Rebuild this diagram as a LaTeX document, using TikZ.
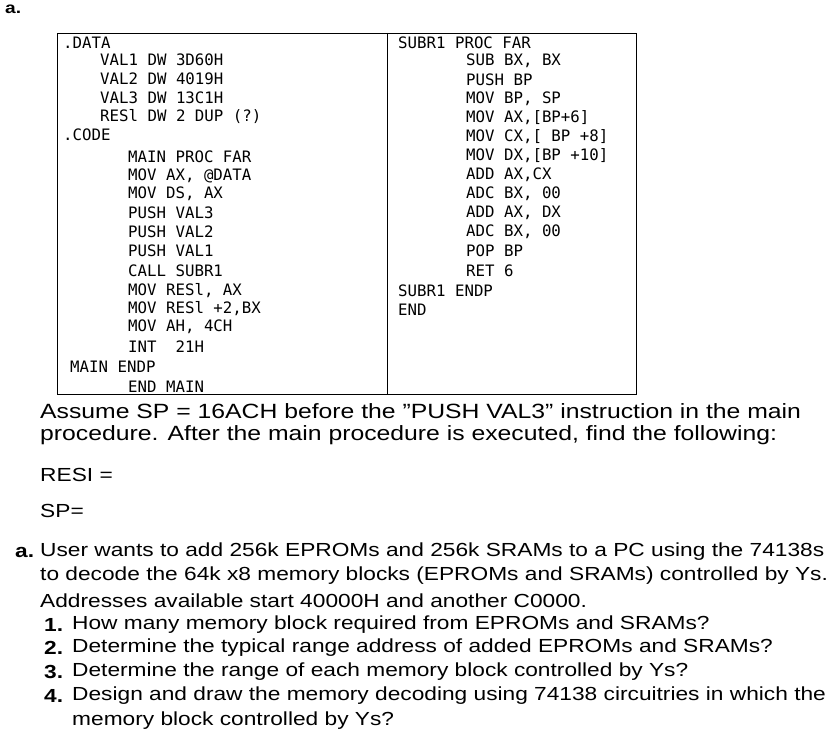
\documentclass[tikz,border=0pt]{standalone}
\usepackage{fontspec}
\setmainfont{Liberation Sans}[FakeStretch=1.2]
\newfontfamily\codefont{DejaVu Sans Mono}
\begin{document}
\begin{tikzpicture}[x=1bp,y=-1bp,
  code/.style={anchor=west,inner sep=0,font=\codefont\fontsize{15.8}{15.8}\selectfont},
  txt/.style={anchor=west,inner sep=0,font=\fontsize{20.7}{20.7}\selectfont},
  txtb/.style={anchor=west,inner sep=0,font=\fontsize{19}{19}\selectfont},
  box/.style={draw=black,line width=0.8pt}]
\useasboundingbox[fill=white] (0,0) rectangle (828,752);
\node[anchor=west,inner sep=0,font=\bfseries\fontsize{16}{16}\selectfont] (a0) at (5,9) {a.};
\draw[box] (57,33) rectangle (636,394);
\draw[box] (387,33) -- (387,394);
% left column
\node[code] (l1) at (63,43) {.DATA};
\foreach \t/\x/\y [count=\i] in {VAL1 DW 3D60H/100/60, VAL2 DW 4019H/100/79, VAL3 DW 13C1H/100/98, RESl DW 2 DUP (?)/100/117,
  .CODE/63/135, MAIN PROC FAR/128/157, {MOV AX, @DATA}/128/176, {MOV DS, AX}/128/194, PUSH VAL3/128/213, PUSH VAL2/128/232,
  PUSH VAL1/128/251, CALL SUBR1/128/271, {MOV RESl, AX}/128/291, {MOV RESl +2,BX}/128/309, {MOV AH, 4CH}/128/327,
  INT\ \ 21H/128/347, MAIN ENDP/70/367, END MAIN/128/387}
  \node[code] (lc\i) at (\x,\y) {\t};
% right column
\foreach \t/\x/\y [count=\i] in {SUBR1 PROC FAR/398/43, {SUB BX, BX}/466/61, PUSH BP/466/80, {MOV BP, SP}/466/99,
  {MOV AX,[BP+6]}/466/118, {MOV CX,[ BP +8]}/466/137, {MOV DX,[BP +10]}/466/156, {ADD AX,CX}/466/175,
  {ADC BX, 00}/466/194, {ADD AX, DX}/466/213, {ADC BX, 00}/466/232, POP BP/466/251, RET 6/466/271,
  SUBR1 ENDP/398/291, END/398/310}
  \node[code] (rc\i) at (\x,\y) {\t};
% text
\node[txt] (t1) at (40,411) {Assume SP = 16ACH before the \symbol{34}PUSH VAL3\symbol{34} instruction in the main};
\node[txt] (t2) at (40,435) {procedure. After the main procedure is executed, find the following:};
\node[txtb] (t3) at (40,475) {RESI =};
\node[txtb] (t4) at (40,511) {SP=};
\node[txtb,font=\bfseries\fontsize{19}{19}\selectfont] (qa) at (15,552) {a.};
\node[txtb] (q1) at (40,552) {User wants to add 256k EPROMs and 256k SRAMs to a PC using the 74138s};
\node[txtb] (q2) at (40,576) {to decode the 64k x8 memory blocks (EPROMs and SRAMs) controlled by Ys.};
\node[txtb] (q3) at (40,601) {Addresses available start 40000H and another C0000.};
\foreach \n/\t/\y in {1/How many memory block required from EPROMs and SRAMs?/625,
  2/Determine the typical range address of added EPROMs and SRAMs?/648,
  3/Determine the range of each memory block controlled by Ys?/672,
  4/Design and draw the memory decoding using 74138 circuitries in which the/696}{
  \node[txtb,font=\bfseries\fontsize{19}{19}\selectfont] (n\n) at (44,\y) {\n.};
  \node[txtb] (i\n) at (72,\y) {\t};}
\node[txtb] (i5) at (72,721) {memory block controlled by Ys?};
\end{tikzpicture}
\end{document}
